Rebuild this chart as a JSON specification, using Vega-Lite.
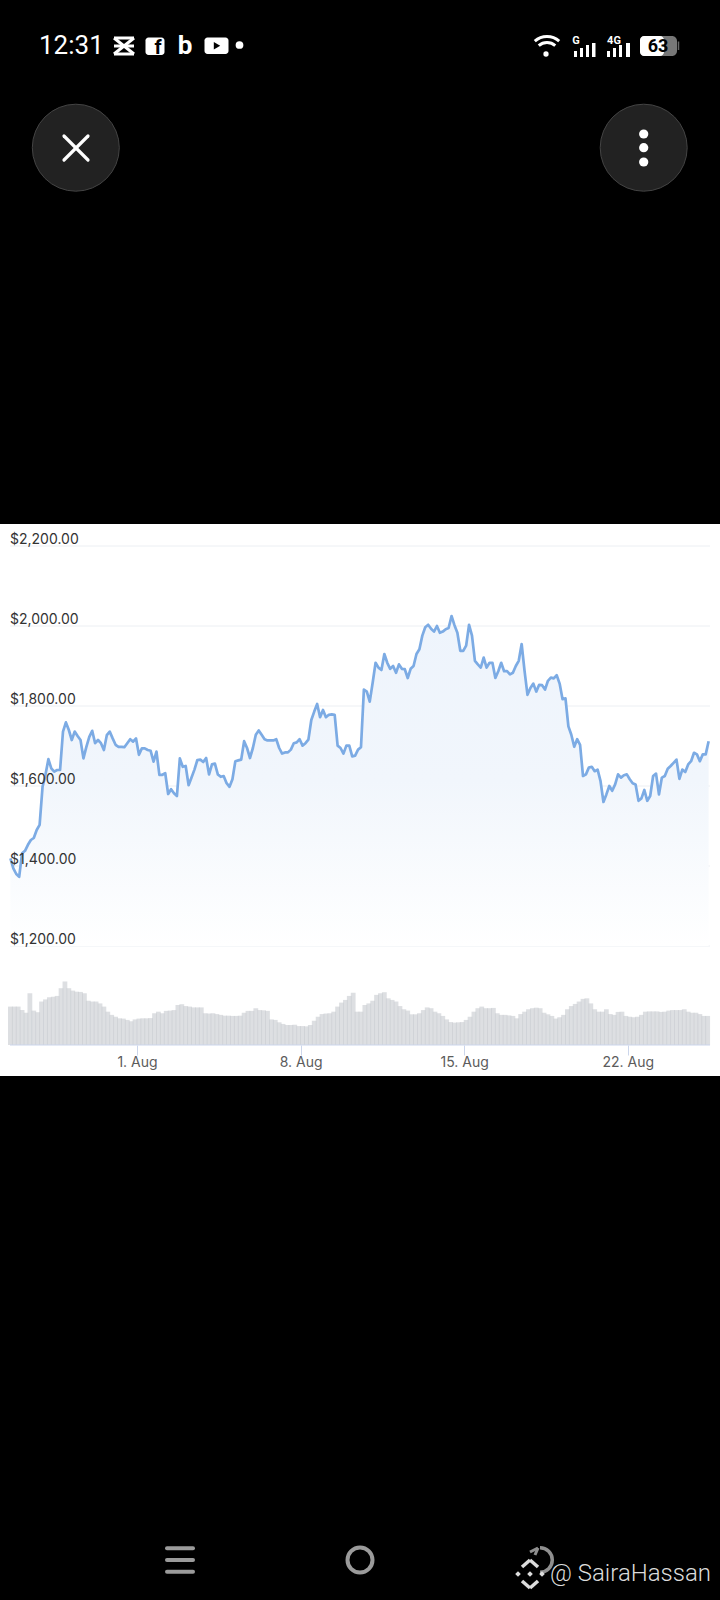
{
"$schema":"https://vega.github.io/schema/vega-lite/v6.json",
"width":720,"height":1600,"padding":0,"autosize":"none","background":"#000000","view":{"stroke":null},
"datasets":{
"levels":[{"level":1200,"from":"2022-07-26T13:35Z","to":"2022-08-25T12:25Z"},{"level":1400,"from":"2022-07-26T13:35Z","to":"2022-08-25T12:25Z"},{"level":1600,"from":"2022-07-26T13:35Z","to":"2022-08-25T12:25Z"},{"level":1800,"from":"2022-07-26T13:35Z","to":"2022-08-25T12:25Z"},{"level":2000,"from":"2022-07-26T13:35Z","to":"2022-08-25T12:25Z"},{"level":2200,"from":"2022-07-26T13:35Z","to":"2022-08-25T12:25Z"}],
"prices":[
{"time":"2022-07-26T14:00Z","price":1419},{"time":"2022-07-26T17:00Z","price":1394},{"time":"2022-07-26T20:00Z","price":1380},{"time":"2022-07-26T23:00Z","price":1373},
{"time":"2022-07-27T02:00Z","price":1432},{"time":"2022-07-27T05:00Z","price":1438},{"time":"2022-07-27T08:00Z","price":1453},{"time":"2022-07-27T11:00Z","price":1465},{"time":"2022-07-27T14:00Z","price":1470},{"time":"2022-07-27T17:00Z","price":1490},{"time":"2022-07-27T20:00Z","price":1503},{"time":"2022-07-27T23:00Z","price":1598},
{"time":"2022-07-28T02:00Z","price":1628},{"time":"2022-07-28T05:00Z","price":1667},{"time":"2022-07-28T08:00Z","price":1644},{"time":"2022-07-28T11:00Z","price":1636},{"time":"2022-07-28T14:00Z","price":1640},{"time":"2022-07-28T17:00Z","price":1640},{"time":"2022-07-28T20:00Z","price":1736},{"time":"2022-07-28T23:00Z","price":1759},
{"time":"2022-07-29T02:00Z","price":1740},{"time":"2022-07-29T05:00Z","price":1715},{"time":"2022-07-29T08:00Z","price":1736},{"time":"2022-07-29T11:00Z","price":1725},{"time":"2022-07-29T14:00Z","price":1715},{"time":"2022-07-29T17:00Z","price":1669},{"time":"2022-07-29T20:00Z","price":1698},{"time":"2022-07-29T23:00Z","price":1723},
{"time":"2022-07-30T02:00Z","price":1738},{"time":"2022-07-30T05:00Z","price":1707},{"time":"2022-07-30T08:00Z","price":1715},{"time":"2022-07-30T11:00Z","price":1707},{"time":"2022-07-30T14:00Z","price":1690},{"time":"2022-07-30T17:00Z","price":1727},{"time":"2022-07-30T20:00Z","price":1736},{"time":"2022-07-30T23:00Z","price":1719},
{"time":"2022-07-31T02:00Z","price":1703},{"time":"2022-07-31T05:00Z","price":1698},{"time":"2022-07-31T08:00Z","price":1698},{"time":"2022-07-31T11:00Z","price":1697},{"time":"2022-07-31T14:00Z","price":1707},{"time":"2022-07-31T17:00Z","price":1717},{"time":"2022-07-31T20:00Z","price":1711},{"time":"2022-07-31T23:00Z","price":1719},
{"time":"2022-08-01T02:00Z","price":1678},{"time":"2022-08-01T05:00Z","price":1694},{"time":"2022-08-01T08:00Z","price":1694},{"time":"2022-08-01T11:00Z","price":1690},{"time":"2022-08-01T14:00Z","price":1688},{"time":"2022-08-01T17:00Z","price":1661},{"time":"2022-08-01T20:00Z","price":1686},{"time":"2022-08-01T23:00Z","price":1628},
{"time":"2022-08-02T02:00Z","price":1628},{"time":"2022-08-02T05:00Z","price":1632},{"time":"2022-08-02T08:00Z","price":1580},{"time":"2022-08-02T11:00Z","price":1592},{"time":"2022-08-02T14:00Z","price":1582},{"time":"2022-08-02T17:00Z","price":1575},{"time":"2022-08-02T20:00Z","price":1669},{"time":"2022-08-02T23:00Z","price":1648},
{"time":"2022-08-03T02:00Z","price":1650},{"time":"2022-08-03T05:00Z","price":1602},{"time":"2022-08-03T08:00Z","price":1621},{"time":"2022-08-03T11:00Z","price":1641},{"time":"2022-08-03T14:00Z","price":1665},{"time":"2022-08-03T17:00Z","price":1666},{"time":"2022-08-03T20:00Z","price":1660},{"time":"2022-08-03T23:00Z","price":1670},
{"time":"2022-08-04T02:00Z","price":1629},{"time":"2022-08-04T05:00Z","price":1654},{"time":"2022-08-04T08:00Z","price":1656},{"time":"2022-08-04T11:00Z","price":1629},{"time":"2022-08-04T14:00Z","price":1623},{"time":"2022-08-04T17:00Z","price":1625},{"time":"2022-08-04T20:00Z","price":1607},{"time":"2022-08-04T23:00Z","price":1598},
{"time":"2022-08-05T02:00Z","price":1617},{"time":"2022-08-05T05:00Z","price":1662},{"time":"2022-08-05T08:00Z","price":1664},{"time":"2022-08-05T11:00Z","price":1666},{"time":"2022-08-05T14:00Z","price":1712},{"time":"2022-08-05T17:00Z","price":1695},{"time":"2022-08-05T20:00Z","price":1670},{"time":"2022-08-05T23:00Z","price":1695},
{"time":"2022-08-06T02:00Z","price":1728},{"time":"2022-08-06T05:00Z","price":1739},{"time":"2022-08-06T08:00Z","price":1728},{"time":"2022-08-06T11:00Z","price":1717},{"time":"2022-08-06T14:00Z","price":1714},{"time":"2022-08-06T17:00Z","price":1714},{"time":"2022-08-06T20:00Z","price":1714},{"time":"2022-08-06T23:00Z","price":1717},
{"time":"2022-08-07T02:00Z","price":1695},{"time":"2022-08-07T05:00Z","price":1681},{"time":"2022-08-07T08:00Z","price":1684},{"time":"2022-08-07T11:00Z","price":1684},{"time":"2022-08-07T14:00Z","price":1691},{"time":"2022-08-07T17:00Z","price":1707},{"time":"2022-08-07T20:00Z","price":1709},{"time":"2022-08-07T23:00Z","price":1717},
{"time":"2022-08-08T02:00Z","price":1701},{"time":"2022-08-08T05:00Z","price":1707},{"time":"2022-08-08T08:00Z","price":1716},{"time":"2022-08-08T11:00Z","price":1765},{"time":"2022-08-08T14:00Z","price":1786},{"time":"2022-08-08T17:00Z","price":1805},{"time":"2022-08-08T20:00Z","price":1772},{"time":"2022-08-08T23:00Z","price":1790},
{"time":"2022-08-09T02:00Z","price":1772},{"time":"2022-08-09T05:00Z","price":1778},{"time":"2022-08-09T08:00Z","price":1779},{"time":"2022-08-09T11:00Z","price":1778},{"time":"2022-08-09T14:00Z","price":1701},{"time":"2022-08-09T17:00Z","price":1695},{"time":"2022-08-09T20:00Z","price":1681},{"time":"2022-08-09T23:00Z","price":1701},
{"time":"2022-08-10T02:00Z","price":1701},{"time":"2022-08-10T05:00Z","price":1674},{"time":"2022-08-10T08:00Z","price":1676},{"time":"2022-08-10T11:00Z","price":1691},{"time":"2022-08-10T14:00Z","price":1697},{"time":"2022-08-10T17:00Z","price":1841},{"time":"2022-08-10T20:00Z","price":1836},{"time":"2022-08-10T23:00Z","price":1811},
{"time":"2022-08-11T02:00Z","price":1858},{"time":"2022-08-11T05:00Z","price":1908},{"time":"2022-08-11T08:00Z","price":1896},{"time":"2022-08-11T11:00Z","price":1890},{"time":"2022-08-11T14:00Z","price":1930},{"time":"2022-08-11T17:00Z","price":1908},{"time":"2022-08-11T20:00Z","price":1893},{"time":"2022-08-11T23:00Z","price":1900},
{"time":"2022-08-12T02:00Z","price":1883},{"time":"2022-08-12T05:00Z","price":1904},{"time":"2022-08-12T08:00Z","price":1893},{"time":"2022-08-12T11:00Z","price":1892},{"time":"2022-08-12T14:00Z","price":1870},{"time":"2022-08-12T17:00Z","price":1893},{"time":"2022-08-12T20:00Z","price":1900},{"time":"2022-08-12T23:00Z","price":1930},
{"time":"2022-08-13T02:00Z","price":1942},{"time":"2022-08-13T05:00Z","price":1976},{"time":"2022-08-13T08:00Z","price":1997},{"time":"2022-08-13T11:00Z","price":2003},{"time":"2022-08-13T14:00Z","price":1993},{"time":"2022-08-13T17:00Z","price":1986},{"time":"2022-08-13T20:00Z","price":2000},{"time":"2022-08-13T23:00Z","price":1983},
{"time":"2022-08-14T02:00Z","price":1986},{"time":"2022-08-14T05:00Z","price":1992},{"time":"2022-08-14T08:00Z","price":1995},{"time":"2022-08-14T11:00Z","price":2025},{"time":"2022-08-14T14:00Z","price":2002},{"time":"2022-08-14T17:00Z","price":1983},{"time":"2022-08-14T20:00Z","price":1938},{"time":"2022-08-14T23:00Z","price":1938},
{"time":"2022-08-15T02:00Z","price":1951},{"time":"2022-08-15T05:00Z","price":2003},{"time":"2022-08-15T08:00Z","price":1976},{"time":"2022-08-15T11:00Z","price":1913},{"time":"2022-08-15T14:00Z","price":1904},{"time":"2022-08-15T17:00Z","price":1896},{"time":"2022-08-15T20:00Z","price":1921},{"time":"2022-08-15T23:00Z","price":1896},
{"time":"2022-08-16T02:00Z","price":1908},{"time":"2022-08-16T05:00Z","price":1908},{"time":"2022-08-16T08:00Z","price":1870},{"time":"2022-08-16T11:00Z","price":1887},{"time":"2022-08-16T14:00Z","price":1908},{"time":"2022-08-16T17:00Z","price":1887},{"time":"2022-08-16T20:00Z","price":1887},{"time":"2022-08-16T23:00Z","price":1879},
{"time":"2022-08-17T02:00Z","price":1883},{"time":"2022-08-17T05:00Z","price":1900},{"time":"2022-08-17T08:00Z","price":1913},{"time":"2022-08-17T11:00Z","price":1955},{"time":"2022-08-17T14:00Z","price":1887},{"time":"2022-08-17T17:00Z","price":1828},{"time":"2022-08-17T20:00Z","price":1845},{"time":"2022-08-17T23:00Z","price":1856},
{"time":"2022-08-18T02:00Z","price":1836},{"time":"2022-08-18T05:00Z","price":1853},{"time":"2022-08-18T08:00Z","price":1852},{"time":"2022-08-18T11:00Z","price":1841},{"time":"2022-08-18T14:00Z","price":1863},{"time":"2022-08-18T17:00Z","price":1871},{"time":"2022-08-18T20:00Z","price":1869},{"time":"2022-08-18T23:00Z","price":1877},
{"time":"2022-08-19T02:00Z","price":1856},{"time":"2022-08-19T05:00Z","price":1817},{"time":"2022-08-19T08:00Z","price":1819},{"time":"2022-08-19T11:00Z","price":1749},{"time":"2022-08-19T14:00Z","price":1728},{"time":"2022-08-19T17:00Z","price":1698},{"time":"2022-08-19T20:00Z","price":1717},{"time":"2022-08-19T23:00Z","price":1703},
{"time":"2022-08-20T02:00Z","price":1625},{"time":"2022-08-20T05:00Z","price":1629},{"time":"2022-08-20T08:00Z","price":1646},{"time":"2022-08-20T11:00Z","price":1648},{"time":"2022-08-20T14:00Z","price":1637},{"time":"2022-08-20T17:00Z","price":1641},{"time":"2022-08-20T20:00Z","price":1612},{"time":"2022-08-20T23:00Z","price":1560},
{"time":"2022-08-21T02:00Z","price":1579},{"time":"2022-08-21T05:00Z","price":1600},{"time":"2022-08-21T08:00Z","price":1588},{"time":"2022-08-21T11:00Z","price":1604},{"time":"2022-08-21T14:00Z","price":1629},{"time":"2022-08-21T17:00Z","price":1621},{"time":"2022-08-21T20:00Z","price":1627},{"time":"2022-08-21T23:00Z","price":1629},
{"time":"2022-08-22T02:00Z","price":1617},{"time":"2022-08-22T05:00Z","price":1607},{"time":"2022-08-22T08:00Z","price":1604},{"time":"2022-08-22T11:00Z","price":1563},{"time":"2022-08-22T14:00Z","price":1569},{"time":"2022-08-22T17:00Z","price":1590},{"time":"2022-08-22T20:00Z","price":1563},{"time":"2022-08-22T23:00Z","price":1575},
{"time":"2022-08-23T02:00Z","price":1625},{"time":"2022-08-23T05:00Z","price":1631},{"time":"2022-08-23T08:00Z","price":1579},{"time":"2022-08-23T11:00Z","price":1621},{"time":"2022-08-23T14:00Z","price":1625},{"time":"2022-08-23T17:00Z","price":1643},{"time":"2022-08-23T20:00Z","price":1650},{"time":"2022-08-23T23:00Z","price":1658},
{"time":"2022-08-24T02:00Z","price":1666},{"time":"2022-08-24T05:00Z","price":1618},{"time":"2022-08-24T08:00Z","price":1641},{"time":"2022-08-24T11:00Z","price":1635},{"time":"2022-08-24T14:00Z","price":1654},{"time":"2022-08-24T17:00Z","price":1662},{"time":"2022-08-24T20:00Z","price":1683},{"time":"2022-08-24T23:00Z","price":1679},
{"time":"2022-08-25T02:00Z","price":1662},{"time":"2022-08-25T05:00Z","price":1679},{"time":"2022-08-25T08:00Z","price":1679},{"time":"2022-08-25T11:00Z","price":1712}
],
"volumes":[
{"time":"2022-07-26T14:00Z","volume":14.4},{"time":"2022-07-26T18:00Z","volume":14.4},{"time":"2022-07-26T22:00Z","volume":14.4},
{"time":"2022-07-27T02:00Z","volume":13.1},{"time":"2022-07-27T06:00Z","volume":12.1},{"time":"2022-07-27T10:00Z","volume":19.4},{"time":"2022-07-27T14:00Z","volume":12.9},{"time":"2022-07-27T18:00Z","volume":12.3},{"time":"2022-07-27T22:00Z","volume":16.3},
{"time":"2022-07-28T02:00Z","volume":17.1},{"time":"2022-07-28T06:00Z","volume":17.9},{"time":"2022-07-28T10:00Z","volume":18.1},{"time":"2022-07-28T14:00Z","volume":18.4},{"time":"2022-07-28T18:00Z","volume":21.3},{"time":"2022-07-28T22:00Z","volume":23.8},
{"time":"2022-07-29T02:00Z","volume":21.3},{"time":"2022-07-29T06:00Z","volume":20.4},{"time":"2022-07-29T10:00Z","volume":20.0},{"time":"2022-07-29T14:00Z","volume":19.9},{"time":"2022-07-29T18:00Z","volume":19.4},{"time":"2022-07-29T22:00Z","volume":16.6},
{"time":"2022-07-30T02:00Z","volume":16.3},{"time":"2022-07-30T06:00Z","volume":16.3},{"time":"2022-07-30T10:00Z","volume":15.6},{"time":"2022-07-30T14:00Z","volume":14.4},{"time":"2022-07-30T18:00Z","volume":12.5},{"time":"2022-07-30T22:00Z","volume":11.3},
{"time":"2022-07-31T02:00Z","volume":10.6},{"time":"2022-07-31T06:00Z","volume":10.0},{"time":"2022-07-31T10:00Z","volume":9.9},{"time":"2022-07-31T14:00Z","volume":9.4},{"time":"2022-07-31T18:00Z","volume":8.9},{"time":"2022-07-31T22:00Z","volume":9.6},
{"time":"2022-08-01T02:00Z","volume":9.9},{"time":"2022-08-01T06:00Z","volume":10.0},{"time":"2022-08-01T10:00Z","volume":10.0},{"time":"2022-08-01T14:00Z","volume":10.1},{"time":"2022-08-01T18:00Z","volume":11.9},{"time":"2022-08-01T22:00Z","volume":12.5},
{"time":"2022-08-02T02:00Z","volume":11.9},{"time":"2022-08-02T06:00Z","volume":12.8},{"time":"2022-08-02T10:00Z","volume":12.9},{"time":"2022-08-02T14:00Z","volume":13.1},{"time":"2022-08-02T18:00Z","volume":15.0},{"time":"2022-08-02T22:00Z","volume":15.3},
{"time":"2022-08-03T02:00Z","volume":14.6},{"time":"2022-08-03T06:00Z","volume":14.4},{"time":"2022-08-03T10:00Z","volume":14.1},{"time":"2022-08-03T14:00Z","volume":14.1},{"time":"2022-08-03T18:00Z","volume":14.1},{"time":"2022-08-03T22:00Z","volume":11.9},
{"time":"2022-08-04T02:00Z","volume":11.8},{"time":"2022-08-04T06:00Z","volume":11.9},{"time":"2022-08-04T10:00Z","volume":11.6},{"time":"2022-08-04T14:00Z","volume":11.3},{"time":"2022-08-04T18:00Z","volume":11.0},{"time":"2022-08-04T22:00Z","volume":11.0},
{"time":"2022-08-05T02:00Z","volume":10.9},{"time":"2022-08-05T06:00Z","volume":10.9},{"time":"2022-08-05T10:00Z","volume":11.0},{"time":"2022-08-05T14:00Z","volume":12.1},{"time":"2022-08-05T18:00Z","volume":12.8},{"time":"2022-08-05T22:00Z","volume":12.8},
{"time":"2022-08-06T02:00Z","volume":13.8},{"time":"2022-08-06T06:00Z","volume":13.1},{"time":"2022-08-06T10:00Z","volume":13.0},{"time":"2022-08-06T14:00Z","volume":12.8},{"time":"2022-08-06T18:00Z","volume":9.6},{"time":"2022-08-06T22:00Z","volume":9.4},
{"time":"2022-08-07T02:00Z","volume":8.5},{"time":"2022-08-07T06:00Z","volume":7.9},{"time":"2022-08-07T10:00Z","volume":7.5},{"time":"2022-08-07T14:00Z","volume":7.5},{"time":"2022-08-07T18:00Z","volume":7.6},{"time":"2022-08-07T22:00Z","volume":7.1},
{"time":"2022-08-08T02:00Z","volume":7.1},{"time":"2022-08-08T06:00Z","volume":7.0},{"time":"2022-08-08T10:00Z","volume":7.5},{"time":"2022-08-08T14:00Z","volume":9.1},{"time":"2022-08-08T18:00Z","volume":10.6},{"time":"2022-08-08T22:00Z","volume":11.6},
{"time":"2022-08-09T02:00Z","volume":11.8},{"time":"2022-08-09T06:00Z","volume":11.9},{"time":"2022-08-09T10:00Z","volume":12.5},{"time":"2022-08-09T14:00Z","volume":14.4},{"time":"2022-08-09T18:00Z","volume":15.9},{"time":"2022-08-09T22:00Z","volume":16.9},
{"time":"2022-08-10T02:00Z","volume":18.4},{"time":"2022-08-10T06:00Z","volume":19.6},{"time":"2022-08-10T10:00Z","volume":12.5},{"time":"2022-08-10T14:00Z","volume":12.5},{"time":"2022-08-10T18:00Z","volume":15.0},{"time":"2022-08-10T22:00Z","volume":15.6},
{"time":"2022-08-11T02:00Z","volume":16.6},{"time":"2022-08-11T06:00Z","volume":18.8},{"time":"2022-08-11T10:00Z","volume":19.4},{"time":"2022-08-11T14:00Z","volume":19.8},{"time":"2022-08-11T18:00Z","volume":17.5},{"time":"2022-08-11T22:00Z","volume":16.9},
{"time":"2022-08-12T02:00Z","volume":16.3},{"time":"2022-08-12T06:00Z","volume":14.6},{"time":"2022-08-12T10:00Z","volume":13.4},{"time":"2022-08-12T14:00Z","volume":12.9},{"time":"2022-08-12T18:00Z","volume":11.5},{"time":"2022-08-12T22:00Z","volume":11.5},
{"time":"2022-08-13T02:00Z","volume":11.9},{"time":"2022-08-13T06:00Z","volume":13.1},{"time":"2022-08-13T10:00Z","volume":14.1},{"time":"2022-08-13T14:00Z","volume":13.8},{"time":"2022-08-13T18:00Z","volume":12.5},{"time":"2022-08-13T22:00Z","volume":11.9},
{"time":"2022-08-14T02:00Z","volume":10.9},{"time":"2022-08-14T06:00Z","volume":9.6},{"time":"2022-08-14T10:00Z","volume":8.6},{"time":"2022-08-14T14:00Z","volume":8.4},{"time":"2022-08-14T18:00Z","volume":8.5},{"time":"2022-08-14T22:00Z","volume":8.6},
{"time":"2022-08-15T02:00Z","volume":9.4},{"time":"2022-08-15T06:00Z","volume":10.6},{"time":"2022-08-15T10:00Z","volume":12.5},{"time":"2022-08-15T14:00Z","volume":13.8},{"time":"2022-08-15T18:00Z","volume":14.4},{"time":"2022-08-15T22:00Z","volume":13.8},
{"time":"2022-08-16T02:00Z","volume":13.8},{"time":"2022-08-16T06:00Z","volume":13.9},{"time":"2022-08-16T10:00Z","volume":11.9},{"time":"2022-08-16T14:00Z","volume":11.3},{"time":"2022-08-16T18:00Z","volume":11.3},{"time":"2022-08-16T22:00Z","volume":11.1},
{"time":"2022-08-17T02:00Z","volume":10.9},{"time":"2022-08-17T06:00Z","volume":10.0},{"time":"2022-08-17T10:00Z","volume":11.6},{"time":"2022-08-17T14:00Z","volume":12.5},{"time":"2022-08-17T18:00Z","volume":13.4},{"time":"2022-08-17T22:00Z","volume":13.8},
{"time":"2022-08-18T02:00Z","volume":14.0},{"time":"2022-08-18T06:00Z","volume":13.8},{"time":"2022-08-18T10:00Z","volume":12.1},{"time":"2022-08-18T14:00Z","volume":11.5},{"time":"2022-08-18T18:00Z","volume":10.9},{"time":"2022-08-18T22:00Z","volume":9.9},
{"time":"2022-08-19T02:00Z","volume":10.4},{"time":"2022-08-19T06:00Z","volume":11.3},{"time":"2022-08-19T10:00Z","volume":13.4},{"time":"2022-08-19T14:00Z","volume":14.6},{"time":"2022-08-19T18:00Z","volume":15.4},{"time":"2022-08-19T22:00Z","volume":16.3},
{"time":"2022-08-20T02:00Z","volume":17.3},{"time":"2022-08-20T06:00Z","volume":17.5},{"time":"2022-08-20T10:00Z","volume":15.6},{"time":"2022-08-20T14:00Z","volume":13.4},{"time":"2022-08-20T18:00Z","volume":12.5},{"time":"2022-08-20T22:00Z","volume":12.5},
{"time":"2022-08-21T02:00Z","volume":13.4},{"time":"2022-08-21T06:00Z","volume":11.6},{"time":"2022-08-21T10:00Z","volume":11.3},{"time":"2022-08-21T14:00Z","volume":12.4},{"time":"2022-08-21T18:00Z","volume":12.5},{"time":"2022-08-21T22:00Z","volume":10.9},
{"time":"2022-08-22T02:00Z","volume":10.6},{"time":"2022-08-22T06:00Z","volume":10.4},{"time":"2022-08-22T10:00Z","volume":10.6},{"time":"2022-08-22T14:00Z","volume":11.3},{"time":"2022-08-22T18:00Z","volume":12.5},{"time":"2022-08-22T22:00Z","volume":12.6},
{"time":"2022-08-23T02:00Z","volume":12.6},{"time":"2022-08-23T06:00Z","volume":12.6},{"time":"2022-08-23T10:00Z","volume":12.4},{"time":"2022-08-23T14:00Z","volume":12.5},{"time":"2022-08-23T18:00Z","volume":12.9},{"time":"2022-08-23T22:00Z","volume":13.1},
{"time":"2022-08-24T02:00Z","volume":13.1},{"time":"2022-08-24T06:00Z","volume":13.1},{"time":"2022-08-24T10:00Z","volume":13.4},{"time":"2022-08-24T14:00Z","volume":12.5},{"time":"2022-08-24T18:00Z","volume":12.1},{"time":"2022-08-24T22:00Z","volume":12.1},
{"time":"2022-08-25T02:00Z","volume":11.6},{"time":"2022-08-25T06:00Z","volume":10.9},{"time":"2022-08-25T10:00Z","volume":10.9}
]
},
"layer":[
{
"encoding":{
"x":{"field":"u","type":"quantitative","scale":{"domain":[0,720],"range":[0,720]},"axis":null},
"y":{"field":"v","type":"quantitative","scale":{"domain":[0,1600],"range":[0,1600]},"axis":null}
},
"layer":[
{"data":{"values":[{"u":0,"u2":720,"v":524,"v2":1076}]},"mark":{"type":"rect","color":"#ffffff"},"encoding":{"x2":{"field":"u2"},"y2":{"field":"v2"}}},
{"data":{"values":[{"u":75.8,"v":147.7},{"u":643.7,"v":147.7}]},"mark":{"type":"point","shape":"circle","filled":true,"size":7569,"color":"#222222","stroke":"#444444","strokeWidth":1,"opacity":1}},
{"data":{"values":[{"u":64,"v":136,"u2":88,"v2":160},{"u":88,"v":136,"u2":64,"v2":160}]},"mark":{"type":"rule","color":"#ffffff","strokeWidth":3.2,"strokeCap":"round"},"encoding":{"x2":{"field":"u2"},"y2":{"field":"v2"}}},
{"data":{"values":[{"u":643.7,"v":134},{"u":643.7,"v":147.7},{"u":643.7,"v":162}]},"mark":{"type":"point","shape":"circle","filled":true,"size":85,"color":"#ffffff","opacity":1}},
{"data":{"values":[{"label":"12:31","u":39,"v":46}]},"mark":{"type":"text","font":"Roboto","fontSize":26,"color":"#ffffff","align":"left","baseline":"middle"},"encoding":{"text":{"field":"label"}}},
{"data":{"values":[{"u":114,"u2":134,"v":38,"v2":38},{"u":114,"u2":134,"v":54,"v2":54},{"u":114,"u2":134,"v":38,"v2":54},{"u":134,"u2":114,"v":38,"v2":54},{"u":114,"u2":134,"v":46,"v2":46}]},"mark":{"type":"rule","color":"#ffffff","strokeWidth":3},"encoding":{"x2":{"field":"u2"},"y2":{"field":"v2"}}},
{"data":{"values":[{"u":145.5,"u2":164.5,"v":37.5,"v2":55},{"u":204.5,"u2":228.5,"v":37.5,"v2":54}]},"mark":{"type":"rect","color":"#ffffff","cornerRadius":3},"encoding":{"x2":{"field":"u2"},"y2":{"field":"v2"}}},
{"data":{"values":[{"label":"f","u":158,"v":48}]},"mark":{"type":"text","font":"Roboto","fontWeight":"bold","fontSize":20,"color":"#000000"},"encoding":{"text":{"field":"label"}}},
{"data":{"values":[{"label":"b","u":185,"v":46}]},"mark":{"type":"text","font":"Roboto","fontWeight":"bold","fontSize":26,"color":"#ffffff"},"encoding":{"text":{"field":"label"}}},
{"data":{"values":[{"u":217,"v":45.7}]},"mark":{"type":"point","shape":"triangle-right","filled":true,"size":55,"color":"#000000","opacity":1}},
{"data":{"values":[{"u":239.5,"v":45}]},"mark":{"type":"point","shape":"circle","filled":true,"size":60,"color":"#ffffff","opacity":1}},
{"data":{"values":[{"u":547,"v":55}]},"mark":{"type":"arc","radius":20,"radius2":17,"theta":-0.72,"theta2":0.72,"color":"#ffffff"}},
{"data":{"values":[{"u":547,"v":55}]},"mark":{"type":"arc","radius":14,"radius2":11,"theta":-0.72,"theta2":0.72,"color":"#ffffff"}},
{"data":{"values":[{"u":546,"v":54}]},"mark":{"type":"point","shape":"circle","filled":true,"size":28,"color":"#ffffff","opacity":1}},
{"data":{"values":[{"label":"G","u":576,"v":41},{"label":"4G","u":614,"v":41}]},"mark":{"type":"text","font":"Roboto","fontWeight":"bold","fontSize":11,"color":"#ffffff"},"encoding":{"text":{"field":"label"}}},
{"data":{"values":[{"u":574,"u2":577,"v":51,"v2":57},{"u":580,"u2":583,"v":48,"v2":57},{"u":586,"u2":589,"v":45,"v2":57},{"u":592,"u2":595.5,"v":43,"v2":57},{"u":607,"u2":610,"v":51,"v2":57},{"u":613,"u2":616,"v":48,"v2":57},{"u":619,"u2":622,"v":45,"v2":57},{"u":626,"u2":630,"v":43,"v2":57}]},"mark":{"type":"rect","color":"#ffffff"},"encoding":{"x2":{"field":"u2"},"y2":{"field":"v2"}}},
{"data":{"values":[{"u":640,"u2":677,"v":36,"v2":56}]},"mark":{"type":"rect","color":"#777777","cornerRadius":5},"encoding":{"x2":{"field":"u2"},"y2":{"field":"v2"}}},
{"data":{"values":[{"u":640,"u2":664,"v":36,"v2":56}]},"mark":{"type":"rect","color":"#ffffff","cornerRadius":4},"encoding":{"x2":{"field":"u2"},"y2":{"field":"v2"}}},
{"data":{"values":[{"u":678.5,"u2":678.5,"v":41.5,"v2":50}]},"mark":{"type":"rule","color":"#666666","strokeWidth":1.5},"encoding":{"x2":{"field":"u2"},"y2":{"field":"v2"}}},
{"data":{"values":[{"label":"63","u":658,"v":47}]},"mark":{"type":"text","font":"Roboto","fontWeight":"bold","fontSize":18,"color":"#000000"},"encoding":{"text":{"field":"label"}}},
{"data":{"values":[{"u":167,"u2":193,"v":1548.3,"v2":1548.3},{"u":167,"u2":193,"v":1560,"v2":1560},{"u":167,"u2":193,"v":1571.7,"v2":1571.7}]},"mark":{"type":"rule","color":"#9b9b9b","strokeWidth":4,"strokeCap":"round"},"encoding":{"x2":{"field":"u2"},"y2":{"field":"v2"}}},
{"data":{"values":[{"u":360,"v":1560}]},"mark":{"type":"point","shape":"circle","filled":false,"size":625,"stroke":"#9b9b9b","strokeWidth":4,"opacity":1}},
{"data":{"values":[{"u":540,"v":1560}]},"mark":{"type":"arc","radius":14,"radius2":10.5,"theta":0,"theta2":3.14,"color":"#8f8f8f"}},
{"data":{"values":[{"u":538,"u2":530,"v":1548,"v2":1552},{"u":538,"u2":535,"v":1548,"v2":1555}]},"mark":{"type":"rule","color":"#8f8f8f","strokeWidth":3},"encoding":{"x2":{"field":"u2"},"y2":{"field":"v2"}}},
{"data":{"values":[{"u":522,"u2":530,"v":1567,"v2":1560},{"u":530,"u2":538,"v":1560,"v2":1567},{"u":522,"u2":530,"v":1581,"v2":1588},{"u":530,"u2":538,"v":1588,"v2":1581}]},"mark":{"type":"rule","color":"#dddddd","strokeWidth":3.5},"encoding":{"x2":{"field":"u2"},"y2":{"field":"v2"}}},
{"data":{"values":[{"u":518,"v":1574},{"u":530,"v":1574},{"u":542,"v":1574}]},"mark":{"type":"point","shape":"diamond","filled":true,"size":32,"color":"#dddddd","opacity":1}},
{"data":{"values":[{"label":"@ SairaHassan","u":550,"v":1574}]},"mark":{"type":"text","font":"Roboto","fontWeight":300,"fontSize":24,"color":"#dcdcdc","align":"left","baseline":"middle"},"encoding":{"text":{"field":"label"}}}
]
},
{
"encoding":{
"x":{"field":"time","type":"temporal","scale":{"type":"utc","padding":0,"domain":["2022-07-26T13:35Z","2022-08-25T12:25Z"],"range":[10,710]},"axis":null},
"y":{"field":"volume","type":"quantitative","scale":{"domain":[0,30],"range":[1045,965]},"axis":null}
},
"layer":[
{"data":{"name":"volumes"},"mark":{"type":"bar","size":4.8,"color":"#c6c9ce","opacity":0.6}},
{"data":{"values":[{"volume":0,"from":"2022-07-26T13:35Z","to":"2022-08-25T12:25Z"}]},"mark":{"type":"rule","color":"#ccd6eb","strokeWidth":1.2},"encoding":{"x":{"field":"from","type":"temporal"},"x2":{"field":"to"}}}
]
},
{
"encoding":{
"x":{"field":"time","type":"temporal","scale":{"type":"utc","domain":["2022-07-26T13:35Z","2022-08-25T12:25Z"],"range":[10,710]},
"axis":{"values":[{"year":2022,"month":"aug","date":1,"utc":true},{"year":2022,"month":"aug","date":8,"utc":true},{"year":2022,"month":"aug","date":15,"utc":true},{"year":2022,"month":"aug","date":22,"utc":true}],"format":"%-d. %b","title":null,"grid":false,"domain":false,"orient":"bottom","offset":-555,"tickSize":10,"tickColor":"#ccd6eb","tickWidth":1,"labelFont":"Inter","labelFontSize":14,"labelColor":"#5c5c5c","labelBaseline":"middle","labelPadding":7.5,"zindex":1}},
"y":{"field":"price","type":"quantitative","scale":{"domain":[1200,2200],"range":[946,546]},
"axis":{"values":[1200,1400,1600,1800,2000,2200],"format":"$,.2f","title":null,"grid":false,"domain":false,"ticks":false,"orient":"left","labelFont":"Inter","labelFontSize":14,"labelColor":"#333333","labelAlign":"left","labelBaseline":"middle","labelPadding":-9.5,"labelOffset":-6.5,"zindex":1}}
},
"layer":[
{"data":{"name":"levels"},"mark":{"type":"rule","color":"#eceff3","strokeWidth":1},"encoding":{"x":{"field":"from","type":"temporal"},"x2":{"field":"to"},"y":{"field":"level","type":"quantitative"}}},
{"data":{"name":"prices"},"mark":{"type":"area","color":{"x1":0,"y1":0,"x2":0,"y2":1,"gradient":"linear","stops":[{"offset":0,"color":"#eef4fc"},{"offset":0.5,"color":"#f1f6fc"},{"offset":1,"color":"#ffffff"}]}},"encoding":{"y2":{"datum":1200}}},
{"data":{"name":"prices"},"mark":{"type":"line","color":"#7cabe4","strokeWidth":2.7,"strokeJoin":"round"}}
]
}
],
"resolve":{"scale":{"x":"independent","y":"independent"},"axis":{"x":"independent","y":"independent"}}
}
